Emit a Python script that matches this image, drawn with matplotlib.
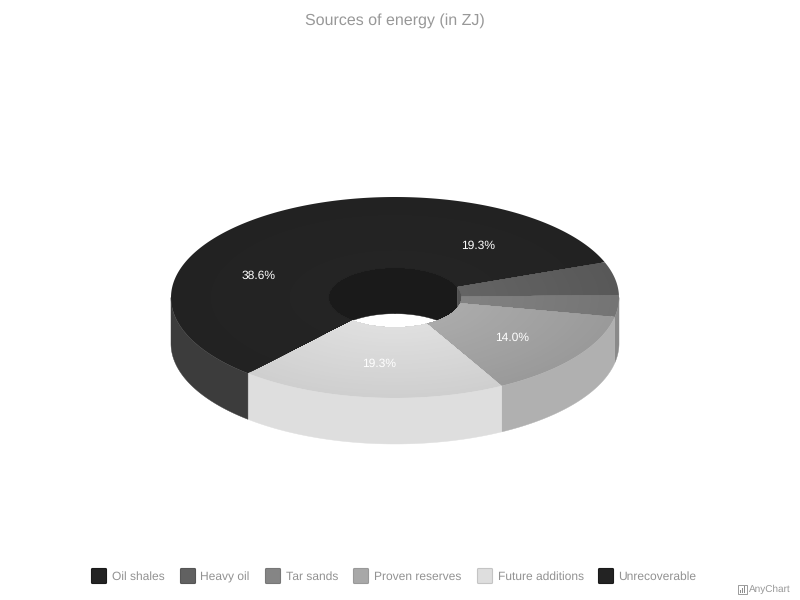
import matplotlib
matplotlib.use('Agg')
import matplotlib.pyplot as plt
import numpy as np
from matplotlib.patches import Ellipse, FancyBboxPatch, Rectangle

plt.rcParams['font.family'] = ['Liberation Sans', 'DejaVu Sans']
plt.rcParams['text.hinting'] = 'no_hinting'
plt.rcParams['text.hinting_factor'] = 1

# data
categories = ['Oil shales', 'Heavy oil', 'Tar sands', 'Proven reserves', 'Future additions', 'Unrecoverable']
values = [19.3, 5.3, 3.5, 14.0, 19.3, 38.6]

# colours per slice: top inner, top outer, outer wall, inner wall, legend
top_inner = ['#242424', '#646464', '#828282', '#aaaaaa', '#dfdfdf', '#242424']
top_outer = ['#222222', '#585858', '#747474', '#9a9a9a', '#cfcfcf', '#222222']
wall_colors = ['#3a3a3a', '#6a6a6a', '#8a8a8a', '#b0b0b0', '#dedede', '#3c3c3c']
hole_colors = ['#1a1a1a', '#525252', '#6a6a6a', '#808080', '#a0a0a0', '#1a1a1a']
legend_colors = ['#232323', '#616161', '#858585', '#a8a8a8', '#dedede', '#232323']
legend_edges = ['#1a1a1a', '#555555', '#777777', '#999999', '#c4c4c4', '#1a1a1a']

# geometry in pixels
cx, cy = 395, 297.5
rx, ry = 224, 100.5
inner = 0.297
depth = 46
n_rings = 40

fig = plt.figure(figsize=(8, 6), dpi=100)
ax = fig.add_axes([0, 0, 1, 1])
ax.set_xlim(0, 800)
ax.set_ylim(600, 0)
ax.axis('off')


def arc(a1, a2, r, dy=0):
    # angles in degrees, clockwise from 12 o'clock
    t = np.radians(np.linspace(a1, a2, max(int(abs(a2 - a1)) * 2, 2)))
    return cx + rx * r * np.sin(t), cy + dy - ry * r * np.cos(t)


def band(a1, a2, r1, r2, dy1=0, dy2=0):
    x1, y1 = arc(a1, a2, r1, dy1)
    x2, y2 = arc(a2, a1, r2, dy2)
    return np.r_[x1, x2], np.r_[y1, y2]


def mix(c1, c2, f):
    a = np.array(matplotlib.colors.to_rgb(c1))
    b = np.array(matplotlib.colors.to_rgb(c2))
    return a + (b - a) * f


edges = np.r_[0, np.cumsum(values)] / np.sum(values) * 360

# inner wall, seen through the hole (back half only)
hole = Ellipse((cx, cy), 2 * rx * inner, 2 * ry * inner, fc='none', ec='none')
ax.add_patch(hole)
for i in range(len(values)):
    for lo, hi in [(0, 90), (270, 360)]:
        a1, a2 = max(edges[i], lo), min(edges[i + 1], hi)
        if a2 > a1:
            x, y = band(a1, a2, inner, inner, 0, depth)
            p = ax.fill(x, y, color=hole_colors[i], lw=0.3)[0]
            p.set_clip_path(hole)

# outer wall (front half only)
for i in range(len(values)):
    a1, a2 = max(edges[i], 90), min(edges[i + 1], 270)
    if a2 > a1:
        x, y = band(a1, a2, 1, 1, 0, depth)
        ax.fill(x, y, color=wall_colors[i], lw=0.3)

# top surface, painted outside in so the shading rings leave no seams
radii = np.linspace(inner, 1, n_rings + 1)
for i in range(len(values)):
    for k in range(n_rings - 1, -1, -1):
        col = mix(top_inner[i], top_outer[i], k / (n_rings - 1))
        x, y = band(edges[i], edges[i + 1], inner, radii[k + 1])
        ax.fill(x, y, color=col, lw=0)

# percent labels, small slices get none
for i, v in enumerate(values):
    pct = v / np.sum(values) * 100
    if pct >= 10:
        mid = np.radians((edges[i] + edges[i + 1]) / 2)
        r = (1 + inner) / 2
        ax.text(cx + rx * r * np.sin(mid), cy + 1.5 - ry * r * np.cos(mid), f'{pct:.1f}%',
                color='white', fontsize=8.64, ha='center', va='center')

ax.text(395, 20.5, 'Sources of energy (in ZJ)', color='#989898', fontsize=11.52, ha='center', va='center')

# legend
swatch_x = [91, 180, 265, 353, 477, 598]
for i, name in enumerate(categories):
    ax.add_patch(FancyBboxPatch((swatch_x[i] + 0.5, 568.5), 15, 15, boxstyle='round,pad=0,rounding_size=1',
                                fc=legend_colors[i], ec=legend_edges[i], lw=0.8))
    ax.text(swatch_x[i] + 20.5, 577, name, color='#929292', fontsize=8.64, ha='left', va='center')

# credit
ax.add_patch(Rectangle((737.5, 584.5), 9, 9, fc='none', ec='#8c8c8c', lw=0.6))
for bx, bh in zip([739.5, 741.5, 743.5], [3, 5, 7]):
    ax.add_patch(Rectangle((bx, 593 - bh), 1.2, bh, fc='#8c8c8c', ec='none'))
ax.text(749, 589.5, 'AnyChart', color='#989898', fontsize=7.2, ha='left', va='center')

fig.savefig('out.png', dpi=100)
